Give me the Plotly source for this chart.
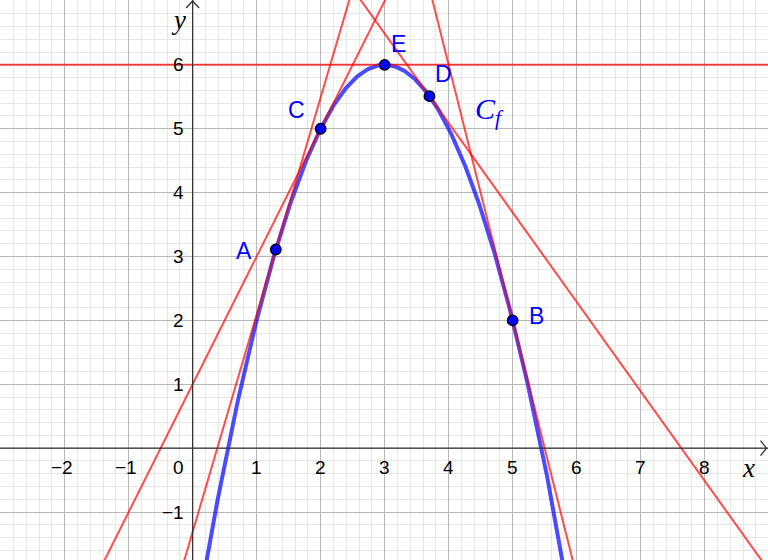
import numpy as np
import plotly.graph_objects as go

# ---- data ----
# parabola f(x) = A*(x-H)^2 + K
PAR_A, PAR_H, PAR_K = -1.0, 3.0, 6.0
point_names = ["A", "B", "C", "D", "E"]
point_x = [1.3, 5.0, 2.0, 3.7, 3.0]
point_y = [3.11, 2.0, 5.0, 5.51, 6.0]
tangent_slopes = [3.4, -4.0, 2.0, -1.4, 0.0]
x_ticks = [-2, -1, 1, 2, 3, 4, 5, 6, 7, 8]
y_ticks = [-1, 1, 2, 3, 4, 5, 6]
x_tick_labels = ["\u22122", "\u22121", "1", "2", "3", "4", "5", "6", "7", "8"]
y_tick_labels = ["\u22121", "1", "2", "3", "4", "5", "6"]

# ---- view ----
XMIN, XMAX = -3.01, 8.99
YMIN, YMAX = -1.75, 7.015
W, H = 768, 560
ux = (XMAX - XMIN) / W   # data units per pixel
uy = (YMAX - YMIN) / H

fig = go.Figure()

# curve
xs = np.linspace(XMIN, XMAX, 600)
ys = PAR_A * (xs - PAR_H) ** 2 + PAR_K
fig.add_trace(go.Scatter(x=xs, y=ys, mode="lines",
                         line=dict(color="rgba(0,0,255,0.7)", width=4),
                         hoverinfo="skip"))

# tangents
for px, py, m in zip(point_x, point_y, tangent_slopes):
    lx = np.array([XMIN - 1, XMAX + 1])
    ly = py + m * (lx - px)
    fig.add_trace(go.Scatter(x=lx, y=ly, mode="lines",
                             line=dict(color="rgba(255,0,0,0.7)", width=2),
                             hoverinfo="skip"))

# points
fig.add_trace(go.Scatter(x=point_x, y=point_y, mode="markers",
                         marker=dict(color="#0000ff", size=10.5,
                                     line=dict(color="#000000", width=1.3)),
                         hoverinfo="skip"))

# point labels (pixel offsets)
label_offsets = {"A": (-32, -2), "B": (24, 4), "C": (-24, 19), "D": (14, 22), "E": (14, 21)}
for n, px, py in zip(point_names, point_x, point_y):
    dx, dy = label_offsets[n]
    fig.add_annotation(x=px, y=py, text=n, showarrow=False, xshift=dx, yshift=dy,
                       font=dict(family="Liberation Sans", size=23, color="#0000ff"))

# C_f label
fig.add_annotation(x=4.64, y=5.27, text="<i>C</i><sub><i>f</i></sub>", showarrow=False,
                   font=dict(family="Liberation Serif", size=30, color="#0000ff"))

# tick labels
tick_font = dict(family="Liberation Sans", size=19, color="#000000")
for v, t in zip(x_ticks, x_tick_labels):
    fig.add_annotation(x=v, y=0, text=t, showarrow=False, yshift=-19,
                       xshift=-3 if v < 0 else 0, font=tick_font)
for v, t in zip(y_ticks, y_tick_labels):
    fig.add_annotation(x=0, y=v, text=t, showarrow=False, xanchor="right", xshift=-7,
                       font=tick_font)
fig.add_annotation(x=0, y=0, text="0", showarrow=False, xshift=-14, yshift=-19,
                   font=tick_font)

# axis names
fig.add_annotation(x=XMAX, y=0, text="<i>x</i>", showarrow=False, xshift=-20, yshift=-20,
                   font=dict(family="Liberation Serif", size=27, color="#000000"))
fig.add_annotation(x=0, y=YMAX, text="<i>y</i>", showarrow=False, xshift=-14, yshift=-20,
                   font=dict(family="Liberation Serif", size=27, color="#000000"))

# axes lines
axis_col = "#333333"
fig.add_shape(type="line", x0=XMIN, x1=XMAX, y0=0, y1=0, line=dict(color=axis_col, width=1.3))
fig.add_shape(type="line", x0=0, x1=0, y0=YMIN, y1=YMAX, line=dict(color=axis_col, width=1.3))
# arrow heads (open chevrons)
ax_tip = XMAX - 1.5 * ux
fig.add_shape(type="path",
              path=f"M {ax_tip-6*ux} {7.5*uy} L {ax_tip} 0 L {ax_tip-6*ux} {-7.5*uy}",
              line=dict(color=axis_col, width=1.3))
ay_tip = YMAX - 1 * uy
fig.add_shape(type="path",
              path=f"M {-6.5*ux} {ay_tip-7*uy} L 0 {ay_tip} L {6.5*ux} {ay_tip-7*uy}",
              line=dict(color=axis_col, width=1.3))

fig.update_xaxes(range=[XMIN, XMAX], showticklabels=False, ticks="",
                 showgrid=True, dtick=1, tick0=0, gridcolor="#b8b8b8", gridwidth=1.3,
                 minor=dict(dtick=0.2, tick0=0, showgrid=True, gridcolor="#e8e8e8", gridwidth=1.3),
                 zeroline=False, showline=False, fixedrange=True)
fig.update_yaxes(range=[YMIN, YMAX], showticklabels=False, ticks="",
                 showgrid=True, dtick=1, tick0=0, gridcolor="#b8b8b8", gridwidth=1.3,
                 minor=dict(dtick=0.2, tick0=0, showgrid=True, gridcolor="#e8e8e8", gridwidth=1.3),
                 zeroline=False, showline=False, fixedrange=True)
fig.update_layout(width=W, height=H, margin=dict(l=0, r=0, t=0, b=0),
                  plot_bgcolor="white", paper_bgcolor="white", showlegend=False)

fig.write_html("out.html", config={"displayModeBar": False},
               post_script="document.body.style.margin='0';document.body.style.overflow='hidden';")
